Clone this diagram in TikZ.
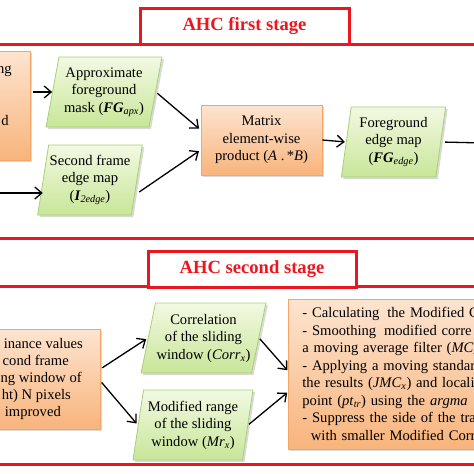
\documentclass[tikz,border=0pt]{standalone}
\usepackage{fontspec}
\setmainfont{Liberation Serif}
\usetikzlibrary{shapes.geometric,shadows,arrows.meta}

\definecolor{ahcred}{RGB}{236,22,30}
\definecolor{orgtop}{RGB}{253,228,208}
\definecolor{orgbot}{RGB}{248,180,124}
\definecolor{orgline}{RGB}{244,166,104}
\definecolor{grntop}{RGB}{242,249,226}
\definecolor{grnbot}{RGB}{200,230,152}
\definecolor{grnline}{RGB}{168,208,120}

\tikzset{
  stageframe/.style={draw=ahcred, line width=3pt},
  titlebox/.style={rectangle, draw=ahcred, line width=3pt, fill=white,
    minimum height=36pt, text=ahcred,
    font=\fontsize{18.6}{22}\selectfont\bfseries,
    drop shadow={opacity=0.3, shadow xshift=2pt, shadow yshift=-2pt}},
  procbox/.style={rectangle, draw=orgline, line width=0.8pt,
    top color=orgtop, bottom color=orgbot, align=center, inner sep=1pt,
    drop shadow={opacity=0.3, shadow xshift=2pt, shadow yshift=-2pt}},
  databox/.style={trapezium, trapezium stretches=true,
    trapezium left angle=77, trapezium right angle=103,
    draw=grnline, line width=0.8pt, top color=grntop, bottom color=grnbot,
    align=center, inner sep=1pt, minimum height=70pt,
    drop shadow={opacity=0.3, shadow xshift=2pt, shadow yshift=-2pt}},
  flow/.style={-{Straight Barb[length=7pt,width=12pt]}, line width=1.3pt},
  frag/.style={inner sep=0pt, anchor=base east}
}

\begin{document}
\begin{tikzpicture}[x=1pt, y=-1pt, font=\fontsize{14.6}{17.5}\selectfont]

\useasboundingbox (0,0) rectangle (474,474);
\clip (0,0) rectangle (474,474);

% stage frames
\draw [stageframe] (-10,44) rectangle (484,238);
\draw [stageframe] (-10,286) rectangle (484,464);

% titles
\node [titlebox, minimum width=209pt] (title1) at (244.5,26) {AHC first stage};
\node [titlebox, minimum width=208pt] (title2) at (252,269) {AHC second stage};

% first stage
\node [procbox, minimum width=110pt, minimum height=109pt] (est) at (-25,105.5) {};
\node [frag] (estA) at (12,73) {ng};
\node [frag] (estB) at (9,125) {d};

\node [databox, minimum width=116pt] (apx) at (104,92)
  {Approximate\\foreground\\mask (\textbf{\textit{FG}}\textsubscript{\textit{apx}})};
\node [databox, minimum width=104pt, trapezium left angle=78, trapezium right angle=102] (sec) at (90,180)
  {Second frame\\edge map\\(\textbf{\textit{I}}\textsubscript{\textit{2edge}})};
\node [procbox, minimum width=121pt, minimum height=70pt] (mat) at (261.5,140)
  {Matrix\\element-wise\\product (\textit{A} .\,{*}\textit{B})};
\node [databox, minimum width=105pt, trapezium left angle=81, trapezium right angle=99] (fge) at (393.5,142)
  {Foreground\\edge map\\(\textbf{\textit{FG}}\textsubscript{\textit{edge}})};
\coordinate (in2) at (-5,193);
\coordinate (out1) at (484,143);

% first stage arrows
\draw [flow, shorten <=3pt] (est.east |- apx.west) -- (apx.west);
\draw [flow] (in2) -- (in2 -| sec.west);
\draw [flow, shorten <=2pt, shorten >=2pt] (apx.east) -- ([yshift=10pt]mat.west);
\draw [flow, shorten >=2pt] ([shift={(2pt,-12pt)}]sec.east) -- ([yshift=-10pt]mat.west);
\draw [flow, shorten >=1pt] (mat.east) -- (fge.west);
\draw [line width=1.3pt, shorten <=4pt] (fge.east) -- (out1);

% second stage
\node [procbox, minimum width=160pt, minimum height=100pt] (lum) at (20,379) {};
\node [frag] (lumA) at (83,348) {inance values};
\node [frag] (lumB) at (69,365) {cond frame};
\node [frag] (lumC) at (82,382) {ng window of};
\node [frag] (lumD) at (71,399) {ht) N pixels};
\node [frag] (lumE) at (61,416) {improved};

\node [databox, minimum width=125pt, trapezium left angle=74, trapezium right angle=106] (corr) at (203.5,338)
  {Correlation\\of the sliding\\window (\textit{Corr}\textsubscript{\textit{x}})};
\node [databox, minimum width=120pt, trapezium left angle=79, trapezium right angle=101] (mr) at (193,425)
  {Modified range\\of the sliding\\window (\textit{Mr}\textsubscript{\textit{x}})};
\node [procbox, anchor=west, text width=400pt, inner xsep=14pt, minimum height=150pt, align=left] (res) at (288,374)
  {- Calculating\hspace{3pt} the Modified C\\
   - Smoothing\hspace{3pt} modified corre\\
   a moving average filter (\textit{MC}\textsubscript{\textit{x}}\\
   - Applying a moving standar\\
   the results (\textit{JMC}\textsubscript{\textit{x}}) and localiz\\
   point (\textit{pt}\textsubscript{\textit{tr}}) using the \textit{argma}\\
   - Suppress the side of the tra\\
   \hspace*{8.5pt}with smaller Modified Corr};

% second stage arrows
\draw [flow, shorten <=2pt, shorten >=2pt] ([yshift=10pt]lum.east) -- (corr.west);
\draw [flow, shorten <=2pt, shorten >=2pt] ([yshift=-2pt]lum.east) -- (mr.west);
\draw [flow, shorten <=1pt, shorten >=1pt] (corr.east) -- ([yshift=3pt]res.west);
\draw [flow, shorten <=1pt, shorten >=1pt] (mr.east) -- ([yshift=-18pt]res.west);

\end{tikzpicture}
\end{document}
